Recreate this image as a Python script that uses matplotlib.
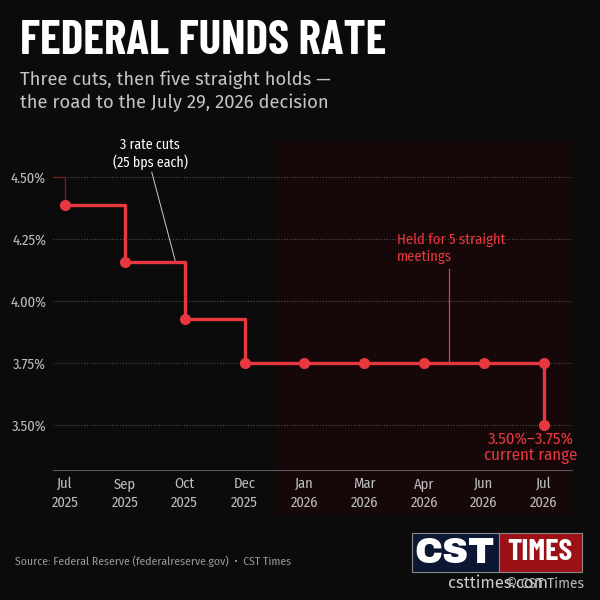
import matplotlib
matplotlib.use("Agg")
import matplotlib.pyplot as plt
from matplotlib.patches import Rectangle

# FOMC meeting decisions (midpoint of target range, %)
meetings = ["Jul\n2025", "Sep\n2025", "Oct\n2025", "Dec\n2025", "Jan\n2026",
            "Mar\n2026", "Apr\n2026", "Jun\n2026", "Jul\n2026"]
rates = [4.39, 4.16, 3.93, 3.75, 3.75, 3.75, 3.75, 3.75, 3.75]
prior_rate = 4.50
current_low = 3.50
y_ticks = [3.50, 3.75, 4.00, 4.25, 4.50]
hold_start = 4  # Jan 2026 onwards shaded

title_font = ["Barlow Condensed", "DejaVu Sans"]
body_font = ["Fira Sans Condensed", "DejaVu Sans"]
plain_font = ["Fira Sans", "DejaVu Sans"]
plt.rcParams["font.family"] = body_font

BG = "#0b0b0b"
RED = "#e8383f"
GREY = "#bdbdbd"

fig = plt.figure(figsize=(6, 6), dpi=100)
fig.patch.set_facecolor(BG)

# shaded "hold" period behind plot and tick labels
step = (544 - 65) / 8
shade_left = (65 + (hold_start - 0.48) * step) / 600
fig.patches.append(Rectangle((shade_left, (600 - 515) / 600), 572 / 600 - shade_left,
                             (515 - 140) / 600, transform=fig.transFigure,
                             facecolor="#160709", edgecolor="none", zorder=-5))

ax = fig.add_axes([53 / 600, 130 / 600, (572 - 53) / 600, (470 - 140) / 600])
ax.set_facecolor("none")
ax.set_xlim(-0.2, 8.47)
ax.set_ylim(3.32, 4.65)

xs = list(range(len(rates)))
ax.plot(xs + [xs[-1]], rates + [current_low], drawstyle="steps-post",
        color=RED, lw=2.4, zorder=3)
ax.plot(xs + [xs[-1]], rates + [current_low], "o", color=RED, ms=7, zorder=4)
# prior level marker
ax.plot([-0.2, 0, 0], [prior_rate, prior_rate, rates[0]], color="#7a1c1c", lw=1, zorder=2)

ax.set_yticks(y_ticks)
ax.set_yticklabels([f"{v:.2f}%" for v in y_ticks])
ax.set_xticks(xs)
ax.set_xticklabels(meetings, linespacing=1.45)
ax.tick_params(colors=GREY, labelsize=10.5, length=0, pad=5)
for s in ["top", "right", "left"]:
    ax.spines[s].set_visible(False)
ax.spines["bottom"].set_color("#555555")
ax.grid(axis="y", color="#505050", ls=(0, (1, 1.5)), lw=0.8)
ax.set_axisbelow(True)

# annotations
ax.text(1.42, 4.595, "3 rate cuts\n(25 bps each)", color="white", ha="center", va="center",
        fontsize=10, linespacing=1.2)
ax.plot([1.45, 1.84], [4.52, 4.165], color="#cccccc", lw=0.7)

ax.text(5.54, 4.215, "Held for 5 straight\nmeetings", color=RED, ha="left", va="center",
        fontsize=10.5, linespacing=1.25)
ax.plot([6.41, 6.41], [4.13, 3.75], color=RED, lw=0.9)

ax.text(7.78, 3.41, "3.50%\u20133.75%\ncurrent range", color=RED, ha="center", va="center",
        fontsize=12, linespacing=1.05)

# titles
fig.text(20 / 600, 1 - 41 / 600, "FEDERAL FUNDS RATE", color="white", fontsize=34,
         fontweight="bold", family=title_font, va="center")
fig.text(20 / 600, 1 - 91 / 600, "Three cuts, then five straight holds \u2014\nthe road to the July 29, 2026 decision",
         color="#c4c4c4", fontsize=13.3, va="center", linespacing=1.3, family=plain_font)

fig.text(15 / 600, 1 - 562 / 600, "Source: Federal Reserve (federalreserve.gov)  \u2022  CST Times",
         color="#9a9a9a", fontsize=8.4, va="center")

# logo
fig.patches.append(Rectangle((412 / 600, 1 - 572 / 600), 87 / 600, 39 / 600, transform=fig.transFigure,
                             facecolor="#0c1833", edgecolor="#8a8a8a", lw=0.8))
fig.patches.append(Rectangle((499 / 600, 1 - 572 / 600), 83 / 600, 39 / 600, transform=fig.transFigure,
                             facecolor="#9c1116", edgecolor="#8a8a8a", lw=0.8))
fig.text(455 / 600, 1 - 553 / 600, "CST", color="white", fontsize=26, fontweight="heavy",
         family=["Archivo Black", "DejaVu Sans"], ha="center", va="center")
fig.text(540 / 600, 1 - 553 / 600, "TIMES", color="white", fontsize=22, fontweight="bold",
         family=title_font, ha="center", va="center")
fig.text(448 / 600, 1 - 583 / 600, "csttimes.com", color="#d0d0d0", fontsize=12, va="center",
         family=plain_font)
fig.text(506 / 600, 1 - 584 / 600, "\u00a9 CST Times", color="#bbbbbb", fontsize=10, va="center",
         family=plain_font)

fig.savefig("out.png", dpi=100, facecolor=BG)
